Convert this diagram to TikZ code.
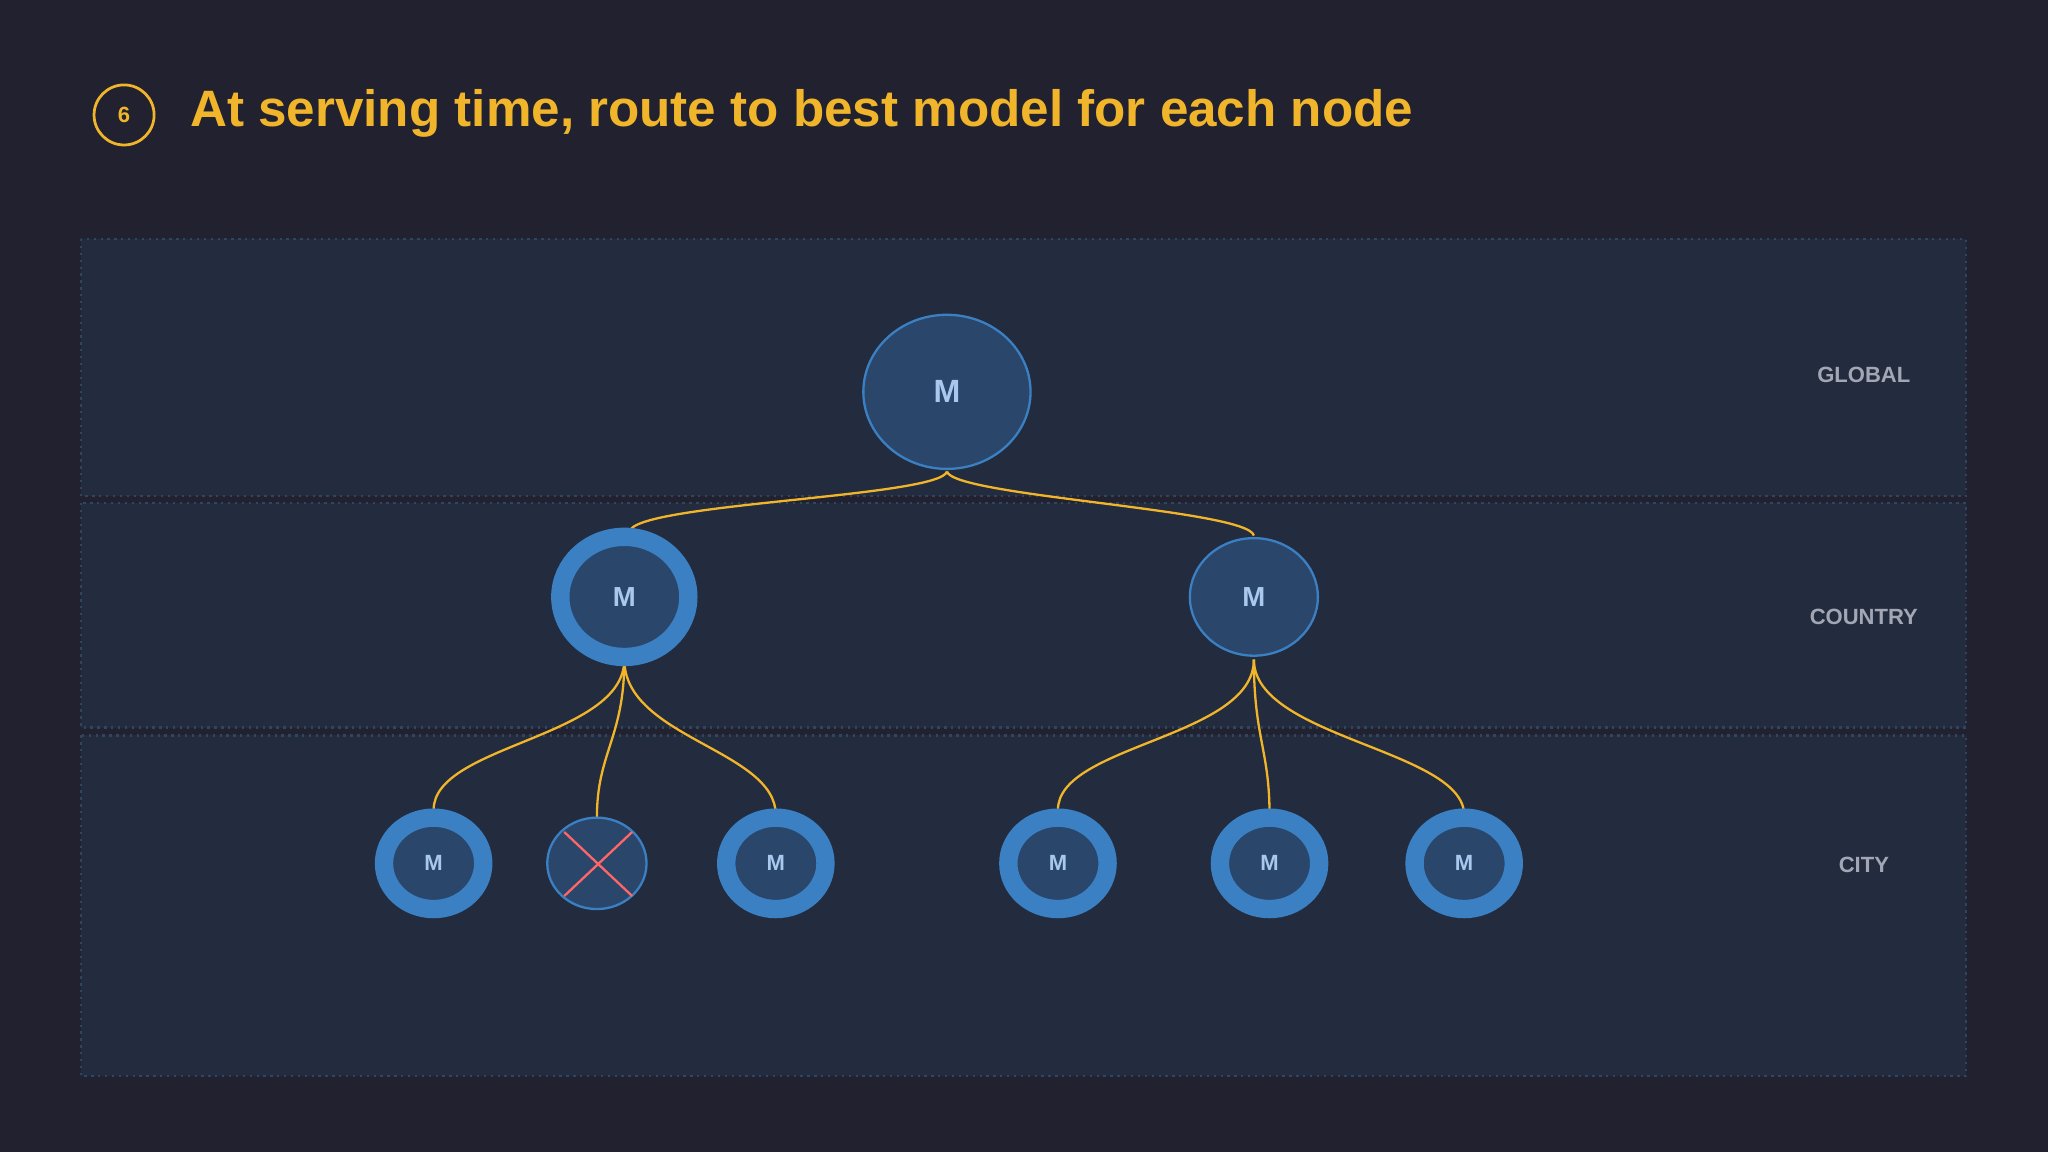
\documentclass[tikz,border=0pt]{standalone}
\usetikzlibrary{calc}
\usepackage{fontspec}
\setmainfont{Liberation Sans}
\begin{document}
\begin{tikzpicture}[x=0.1mm,y=-0.1mm,
  band/.style={fill=bandc,draw=bandline,densely dotted,line width=0.5pt},
  ring/.style={fill=nodec,draw=ringc,line width=4pt},
  mtxt/.style={text=mcol,font=\bfseries},
  conn/.style={draw=yel,line width=0.5pt},
  lbl/.style={text=lblc,font=\bfseries\fontsize{4.8}{6}\selectfont}]
\definecolor{bg}{HTML}{21212F}
\definecolor{bandc}{HTML}{232B3F}
\definecolor{bandline}{HTML}{2E4660}
\definecolor{nodec}{HTML}{2B466B}
\definecolor{ringc}{HTML}{3A80C2}
\definecolor{mcol}{HTML}{A8C8EE}
\definecolor{yel}{HTML}{F0B52A}
\definecolor{lblc}{HTML}{A3A7B3}
\fill[bg] (0,0) rectangle (1568,882);
\useasboundingbox (0,0) rectangle (1568,882);
\path[band] (62,183) rectangle (1505,380);
\path[band] (62,385) rectangle (1505,557);
\path[band] (62,563) rectangle (1505,824);
% title
\node[draw=yel,line width=0.6pt,circle,minimum size=46*0.1mm,inner sep=0,text=yel,font=\bfseries\fontsize{4.8}{6}\selectfont] (num) at (95,88) {6};
\node[anchor=west,text=yel,font=\bfseries\fontsize{11.15}{13}\selectfont,inner sep=0] (title) at (145,87) {At serving time, route to best model for each node};
% connectors
\coordinate (gb) at (725,361);
\coordinate (cl) at (483,405);
\coordinate (cr) at (960,410);
\coordinate (clb) at (478,505);
\coordinate (crb) at (960,505);
\coordinate (t1) at (332,620);
\coordinate (t2) at (457,626);
\coordinate (t3) at (594,624);
\coordinate (t4) at (810,620);
\coordinate (t5) at (972,624);
\coordinate (t6) at (1121,624);
\draw[conn] (gb) .. controls (720,380) and (500,385) .. (cl);
\draw[conn] (gb) .. controls (730,380) and (955,390) .. (cr);
\foreach \t in {t1,t2,t3}{\draw[conn] (clb) .. controls ($(clb)+(0,60)$) and ($(\t)+(0,-50)$) .. (\t);}
\foreach \t in {t4,t5,t6}{\draw[conn] (crb) .. controls ($(crb)+(0,60)$) and ($(\t)+(0,-50)$) .. (\t);}
% nodes
\draw[fill=nodec,draw=ringc,line width=0.5pt] (725,300) ellipse [x radius=64,y radius=59];
\node[mtxt,font=\bfseries\fontsize{7}{8}\selectfont] (g) at (725,300) {M};
\draw[ring] (478,457) ellipse [x radius=49,y radius=46];
\node[mtxt,font=\bfseries\fontsize{6}{7}\selectfont] (c1) at (478,457) {M};
\draw[fill=nodec,draw=ringc,line width=0.5pt] (960,457) ellipse [x radius=49,y radius=45];
\node[mtxt,font=\bfseries\fontsize{6}{7}\selectfont] (c2) at (960,457) {M};
\foreach \x/\n in {332/a,594/b,810/c,972/d,1121/e}{
  \draw[ring] (\x,661) ellipse [x radius=38,y radius=35];
  \node[mtxt,font=\bfseries\fontsize{4.8}{6}\selectfont] (\n) at (\x,661) {M};}
\draw[fill=nodec,draw=ringc,line width=0.5pt] (457,661) ellipse [x radius=38,y radius=35];
\draw[draw=red!60!white,line width=0.5pt] (432,637) -- (484,686) (484,637) -- (432,686);
\node[lbl] (lg) at (1427,287) {GLOBAL};
\node[lbl] (lc) at (1427,472) {COUNTRY};
\node[lbl] (lt) at (1427,662) {CITY};
\end{tikzpicture}
\end{document}
